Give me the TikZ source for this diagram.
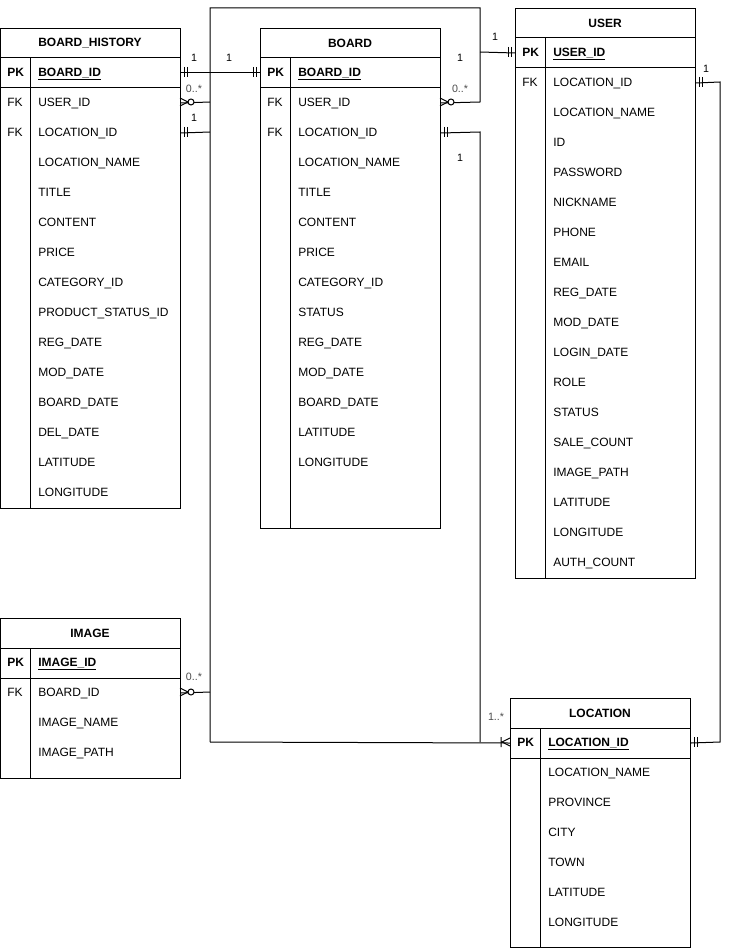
\documentclass[tikz,border=0pt]{standalone}
\usepackage{fontspec}
\setmainfont{Liberation Sans}
\begin{document}
\begin{tikzpicture}[x=0.75pt,y=-0.75pt,
  box/.style={draw,line width=0.75pt,anchor=north west,minimum width=135pt,inner sep=0pt},
  txt/.style={font=\fontsize{9}{10}\selectfont,anchor=west,inner sep=0pt,text height=7pt,text depth=2pt},
  ttl/.style={font=\fontsize{9}{10}\selectfont\bfseries,inner sep=0pt},
  lbl/.style={font=\fontsize{8}{9}\selectfont,inner sep=0pt},
  ln/.style={line width=0.75pt}]
\useasboundingbox (0,0) rectangle (730,948);
\newcommand\entity[7]{%
  \node[box,minimum height={(#6-#3)*0.75pt}] (#1) at (#2,#3) {};
  \node[ttl] (#1-t) at (#2+90,#3+15) {#4};
  \draw[ln] (#2,#3+30) -- (#2+180,#3+30);
  \draw[ln] (#2,#3+60) -- (#2+180,#3+60);
  \draw[ln] (#2+30,#3+30) -- (#2+30,#6);
  \node[txt,font=\fontsize{9}{10}\selectfont\bfseries] (#1-pk) at (#2+7,#3+45) {PK};
  \node[txt,font=\fontsize{9}{10}\selectfont\bfseries] (#1-pkn) at (#2+38,#3+45) {\underline{#5}};
  \foreach \k/\n [count=\i] in {#7} {
    \node[txt] (#1-k\i) at (#2+7,#3+45+30*\i) {\k};
    \node[txt] (#1-r\i) at (#2+38,#3+45+30*\i) {\n};
  }}
\entity{bh}{0}{28}{BOARD\_HISTORY}{BOARD\_ID}{508}{FK/USER\_ID,FK/LOCATION\_ID,/LOCATION\_NAME,/TITLE,/CONTENT,/PRICE,/CATEGORY\_ID,/PRODUCT\_STATUS\_ID,/REG\_DATE,/MOD\_DATE,/BOARD\_DATE,/DEL\_DATE,/LATITUDE,/LONGITUDE}
\entity{bd}{260}{28}{BOARD}{BOARD\_ID}{528}{FK/USER\_ID,FK/LOCATION\_ID,/LOCATION\_NAME,/TITLE,/CONTENT,/PRICE,/CATEGORY\_ID,/STATUS,/REG\_DATE,/MOD\_DATE,/BOARD\_DATE,/LATITUDE,/LONGITUDE}
\entity{us}{515}{8}{USER}{USER\_ID}{578}{FK/LOCATION\_ID,/LOCATION\_NAME,/ID,/PASSWORD,/NICKNAME,/PHONE,/EMAIL,/REG\_DATE,/MOD\_DATE,/LOGIN\_DATE,/ROLE,/STATUS,/SALE\_COUNT,/IMAGE\_PATH,/LATITUDE,/LONGITUDE,/AUTH\_COUNT}
\entity{im}{0}{618}{IMAGE}{IMAGE\_ID}{778}{FK/BOARD\_ID,/IMAGE\_NAME,/IMAGE\_PATH}
\entity{lo}{510}{698}{LOCATION}{LOCATION\_ID}{946.5}{/LOCATION\_NAME,/PROVINCE,/CITY,/TOWN,/LATITUDE,/LONGITUDE}
\newcommand\one[2]{\draw[ln] (#1+4*#2,-5+\y) -- (#1+4*#2,5+\y) (#1+7*#2,-5+\y) -- (#1+7*#2,5+\y);}
\newcommand\many[2]{\draw[ln] (#1,-4+\y) -- (#1+8*#2,\y) -- (#1,4+\y);\draw[ln,fill=white] (#1+11*#2,\y) circle (3);}
\newcommand\manyone[2]{\draw[ln] (#1,-4+\y) -- (#1+8*#2,\y) -- (#1,4+\y) (#1+9*#2,-5+\y) -- (#1+9*#2,5+\y);}
\coordinate (c1) at (210,8); \coordinate (c2) at (480,8); \coordinate (c3) at (480,102);
\coordinate (c4) at (210,742); \coordinate (c5) at (480,132); \coordinate (c6) at (480,742);
\coordinate (c7) at (720,82); \coordinate (c8) at (720,742);
\draw[ln] (bh.north east |- bh-pk) -- (bd.north west |- bd-pk);
\draw[ln] (bh.north east |- bh-k1) -- (210,102);
\draw[ln] (bh.north east |- bh-k2) -- (210,132);
\draw[ln] (im.north east |- im-k1) -- (210,692);
\draw[ln] (c4) -- (c1) -- (c2) -- (c3) -- (bd.north east |- bd-k1);
\draw[ln] (c4) -- (lo.north west |- lo-pk);
\draw[ln] (bd.north east |- bd-k2) -- (c5) -- (c6);
\draw[ln] (us.north west |- us-pk) -- (480,52);
\draw[ln] (us.north east |- us-k1) -- (c7) -- (c8) -- (lo.north east |- lo-pk);
\def\y{72}\one{180}{1}\one{260}{-1}
\def\y{102}\many{180}{1}
\def\y{132}\one{180}{1}
\def\y{692}\many{180}{1}
\def\y{102}\many{440}{1}
\def\y{132}\one{440}{1}
\def\y{52}\one{515}{-1}
\def\y{82}\one{695}{1}
\def\y{742}\one{690}{1}\manyone{510}{-1}
\node[lbl] (l1) at (194,58) {1};
\node[lbl] (l2) at (229,58) {1};
\node[lbl,text=black!70] (l3) at (194,89) {0..*};
\node[lbl] (l4) at (194,118) {1};
\node[lbl] (l5) at (460,58) {1};
\node[lbl,text=black!70] (l6) at (460,89) {0..*};
\node[lbl] (l7) at (460,158) {1};
\node[lbl] (l8) at (495,37) {1};
\node[lbl] (l9) at (706,69) {1};
\node[lbl,text=black!70] (l10) at (194,677) {0..*};
\node[lbl,text=black!70] (l11) at (496,717) {1..*};
\end{tikzpicture}
\end{document}
